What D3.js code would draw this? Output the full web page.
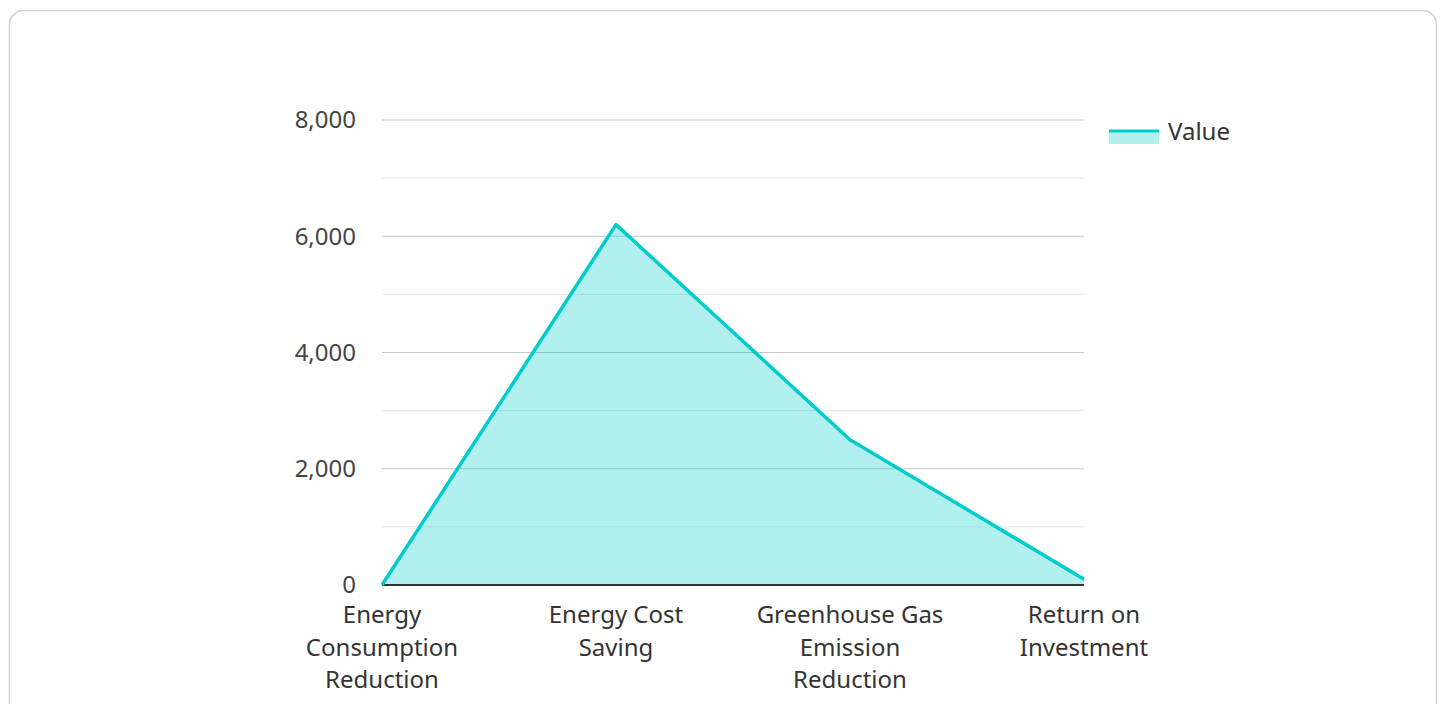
<!DOCTYPE html>
<html>
<head>
<meta charset="utf-8">
<script src="https://cdn.jsdelivr.net/npm/d3@7"></script>
<style>
body { margin: 0; background: #fff; font-family: "Noto Sans", sans-serif; }
</style>
</head>
<body>
<svg id="chart" width="1446" height="704"></svg>
<script>
// data
var categories = [
    ["Energy", "Consumption", "Reduction"],
    ["Energy Cost", "Saving"],
    ["Greenhouse Gas", "Emission", "Reduction"],
    ["Return on", "Investment"]
];
var names = ["Energy Consumption Reduction", "Energy Cost Saving", "Greenhouse Gas Emission Reduction", "Return on Investment"];
var values = [0, 6200, 2500, 100];
var majorTicks = [0, 2000, 4000, 6000, 8000];
var minorTicks = [1000, 3000, 5000, 7000];

var svg = d3.select("#chart");

// card
svg.append("rect")
    .attr("x", 9.5).attr("y", 10.5)
    .attr("width", 1427).attr("height", 720)
    .attr("rx", 14)
    .attr("fill", "#fff")
    .attr("stroke", "#d0d0d0")
    .attr("stroke-width", 1.5);

var xs = d3.scalePoint().domain(names).range([382, 1084]);
var ys = d3.scaleLinear().domain([0, 8000]).range([585, 120]);

// grid
svg.append("g").selectAll("line").data(minorTicks).join("line")
    .attr("x1", 382).attr("x2", 1084)
    .attr("y1", d => ys(d)).attr("y2", d => ys(d))
    .attr("stroke", "#e6e6e6").attr("stroke-width", 1);
svg.append("g").selectAll("line").data(majorTicks.slice(1)).join("line")
    .attr("x1", 382).attr("x2", 1084)
    .attr("y1", d => ys(d)).attr("y2", d => ys(d))
    .attr("stroke", "#c8c8c8").attr("stroke-width", 1.2);

// y labels
svg.append("g").selectAll("text").data(majorTicks).join("text")
    .attr("x", 356)
    .attr("y", d => ys(d))
    .attr("dy", "0.35em")
    .attr("text-anchor", "end")
    .attr("font-size", 24)
    .attr("fill", "#444")
    .text(d3.format(","));

var pts = names.map((n, i) => ({name: n, v: values[i]}));

var area = d3.area()
    .x(d => xs(d.name))
    .y0(ys(0))
    .y1(d => ys(d.v));
var line = d3.line()
    .x(d => xs(d.name))
    .y(d => ys(d.v));

svg.append("path").datum(pts)
    .attr("d", area)
    .attr("fill", "#00cccc").attr("fill-opacity", 0.3);

// baseline
svg.append("line")
    .attr("x1", 382).attr("x2", 1084)
    .attr("y1", ys(0)).attr("y2", ys(0))
    .attr("stroke", "#333").attr("stroke-width", 2);

svg.append("path").datum(pts)
    .attr("d", line)
    .attr("fill", "none")
    .attr("stroke", "#00cccc")
    .attr("stroke-width", 3.5)
    .attr("stroke-linejoin", "round");

// x labels
var xl = svg.append("g").selectAll("text").data(names).join("text")
    .attr("x", d => xs(d))
    .attr("y", 623)
    .attr("text-anchor", "middle")
    .attr("font-size", 24)
    .attr("fill", "#333");
xl.each(function(d, i) {
    d3.select(this).selectAll("tspan").data(categories[i]).join("tspan")
        .attr("x", xs(d))
        .attr("dy", (t, j) => j === 0 ? 0 : 32.5)
        .text(t => t);
});

// legend
svg.append("rect")
    .attr("x", 1109).attr("y", 130)
    .attr("width", 50).attr("height", 14)
    .attr("fill", "#00cccc").attr("fill-opacity", 0.3);
svg.append("line")
    .attr("x1", 1109).attr("x2", 1159)
    .attr("y1", 131).attr("y2", 131)
    .attr("stroke", "#00cccc").attr("stroke-width", 3);
svg.append("text")
    .attr("x", 1168).attr("y", 140)
    .attr("font-size", 24)
    .attr("fill", "#333")
    .text("Value");
</script>
</body>
</html>
